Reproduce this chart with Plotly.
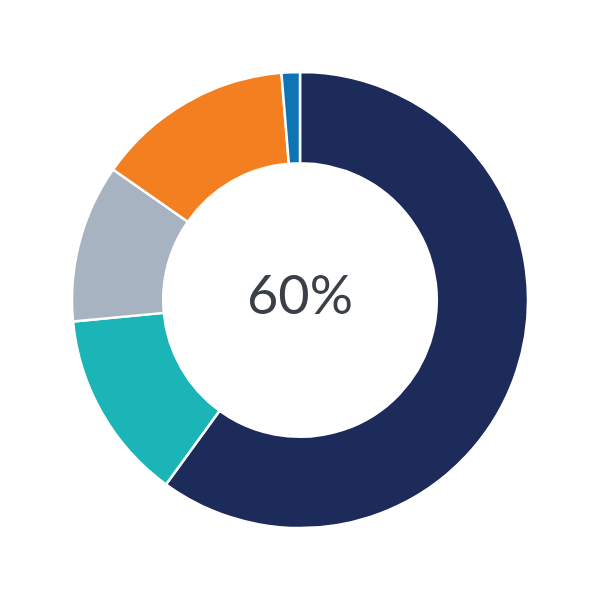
import plotly.graph_objects as go

labels = ['A', 'B', 'C', 'D', 'E']
values = [60, 13.5, 11.2, 14.0, 1.3]
colors = ['#1c2b5a', '#1bb5b7', '#a8b3c1', '#f47f20', '#0e74b3']

fig = go.Figure()

fig.add_trace(go.Pie(labels=labels,
                     values=values,
                     hole=0.6,
                     sort=False,
                     direction='clockwise',
                     rotation=0,
                     textinfo='none',
                     hoverinfo='label+percent',
                     marker=dict(colors=colors,
                                 line=dict(color='white', width=2.5)),
                     showlegend=False))

# page body adds ~8px offset, so shift the pie up/left to keep it centred
fig.update_layout(
    width=600,
    height=600,
    margin=dict(l=64, r=80, t=64, b=80),
    paper_bgcolor='white',
    plot_bgcolor='white',
    annotations=[dict(text='60%',
                      x=0.5, y=0.514,
                      xref='paper', yref='paper',
                      showarrow=False,
                      font=dict(family='Lato', size=54, color='#3b4047'))]
)

fig.write_html('out.html')
